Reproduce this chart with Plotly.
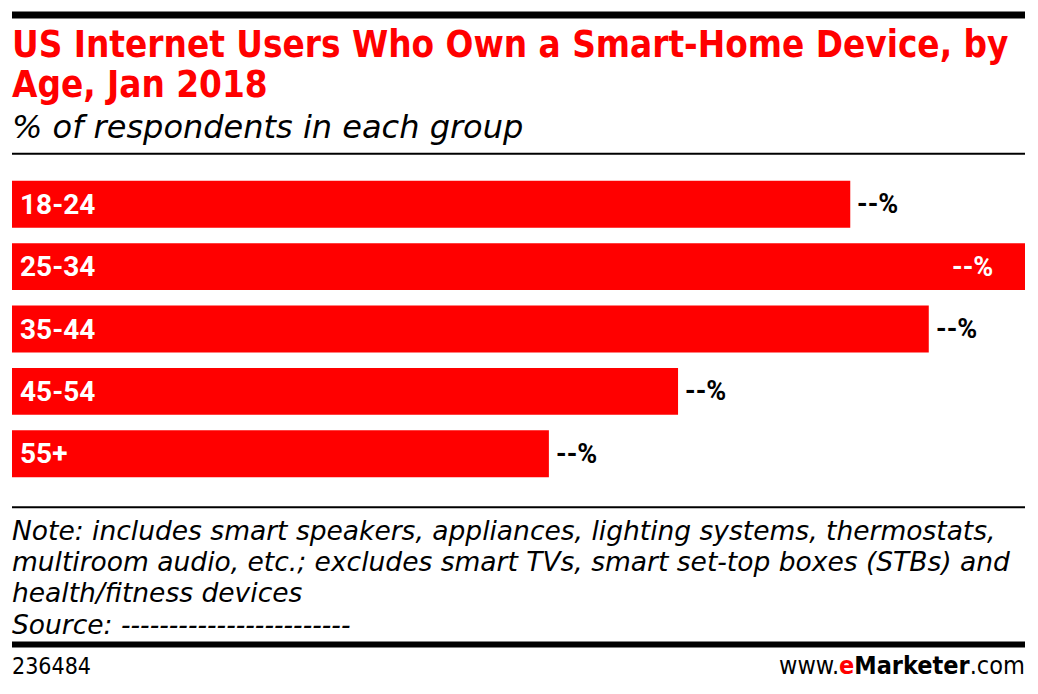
import plotly.graph_objects as go

categories = ["18-24", "25-34", "35-44", "45-54", "55+"]
values = [33.1, 40.0, 36.2, 26.3, 21.2]
value_labels = ["--%", "--%", "--%", "--%", "--%"]

title_lines = ["US Internet Users Who Own a Smart-Home Device, by", "Age, Jan 2018"]
subtitle = "% of respondents in each group"
note_lines = [
    "Note: includes smart speakers, appliances, lighting systems, thermostats,",
    "multiroom audio, etc.; excludes smart TVs, smart set-top boxes (STBs) and",
    "health/fitness devices",
    "Source: ------------------------",
]
chart_id = "236484"

W, H = 1038, 694
PL, PR = 12, 1025
PT, PB = 173.25, 484.75
RED = "#ff0000"

def xp(px):
    return (px - PL) / (PR - PL)

def yp(py):
    return (PB - py) / (PB - PT)

fig = go.Figure()
fig.add_trace(go.Bar(
    y=categories, x=values, orientation="h",
    marker=dict(color=RED, line=dict(width=0)),
    hoverinfo="skip",
))

annotations = []
vmax = max(values)
for c, v, lab in zip(categories, values, value_labels):
    annotations.append(dict(
        x=0, y=c, xref="x", yref="y", text="<b>%s</b>" % c, showarrow=False,
        xanchor="left", yanchor="middle", xshift=6,
        font=dict(family="Roboto", size=28, color="white"),
    ))
    if v == vmax:
        annotations.append(dict(
            x=v, y=c, xref="x", yref="y", text="<b>%s</b>" % lab, showarrow=False,
            xanchor="right", yanchor="middle", xshift=-30,
            font=dict(family="Roboto", size=27, color="white"),
        ))
    else:
        annotations.append(dict(
            x=v, y=c, xref="x", yref="y", text="<b>%s</b>" % lab, showarrow=False,
            xanchor="left", yanchor="middle", xshift=5,
            font=dict(family="Roboto", size=27, color="black"),
        ))

title_font = dict(family="DejaVu Sans Condensed", size=36.5, color=RED)
for t, cy in zip(title_lines, [45, 85]):
    annotations.append(dict(
        x=xp(10), y=yp(cy), xref="paper", yref="paper", text="<b>%s</b>" % t,
        showarrow=False, xanchor="left", yanchor="middle", font=title_font,
    ))
annotations.append(dict(
    x=xp(10), y=yp(127), xref="paper", yref="paper", text="<i>%s</i>" % subtitle,
    showarrow=False, xanchor="left", yanchor="middle",
    font=dict(family="DejaVu Sans", size=32, color="black"),
))
for t, cy in zip(note_lines, [530, 561, 592, 624]):
    annotations.append(dict(
        x=xp(10), y=yp(cy), xref="paper", yref="paper", text="<i>%s</i>" % t,
        showarrow=False, xanchor="left", yanchor="middle",
        font=dict(family="DejaVu Sans", size=26.5, color="black"),
    ))
annotations.append(dict(
    x=xp(10), y=yp(665), xref="paper", yref="paper", text=chart_id,
    showarrow=False, xanchor="left", yanchor="middle",
    font=dict(family="DejaVu Sans Condensed", size=23, color="black"),
))
annotations.append(dict(
    x=xp(1027), y=yp(665), xref="paper", yref="paper",
    text="www.<b><span style='color:%s'>e</span>Marketer</b>.com" % RED,
    showarrow=False, xanchor="right", yanchor="middle",
    font=dict(family="DejaVu Sans Condensed", size=25, color="black"),
))

shapes = [
    dict(type="rect", xref="paper", yref="paper", x0=xp(12), x1=xp(1025),
         y0=yp(12), y1=yp(19), fillcolor="black", line=dict(width=0)),
    dict(type="rect", xref="paper", yref="paper", x0=xp(12), x1=xp(1025),
         y0=yp(153), y1=yp(155), fillcolor="black", line=dict(width=0)),
    dict(type="rect", xref="paper", yref="paper", x0=xp(12), x1=xp(1025),
         y0=yp(506), y1=yp(508), fillcolor="black", line=dict(width=0)),
    dict(type="rect", xref="paper", yref="paper", x0=xp(12), x1=xp(1025),
         y0=yp(641), y1=yp(647), fillcolor="black", line=dict(width=0)),
]

fig.update_layout(
    width=W, height=H,
    margin=dict(l=PL, r=W - PR, t=PT, b=H - PB, pad=0),
    paper_bgcolor="white", plot_bgcolor="white",
    showlegend=False, bargap=0.248,
    xaxis=dict(range=[0, vmax], visible=False, fixedrange=True),
    yaxis=dict(autorange="reversed", visible=False, fixedrange=True),
    annotations=annotations, shapes=shapes,
)

fig.write_html("out.html", config={"displayModeBar": False})
